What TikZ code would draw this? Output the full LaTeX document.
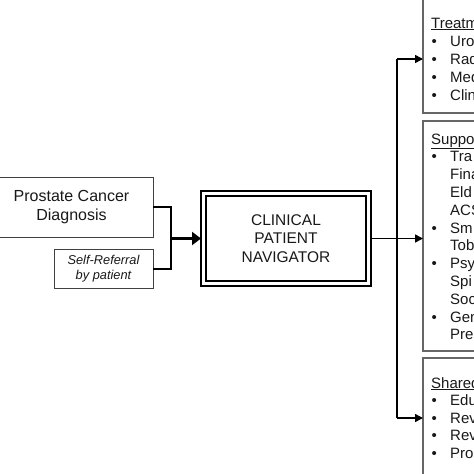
\documentclass[tikz,border=0pt]{standalone}
\usepackage{fontspec}
\setmainfont{Liberation Sans}
\usetikzlibrary{arrows.meta}
\newcommand{\bul}{\makebox[19pt][l]{\hspace*{0.5pt}•}}
\newcommand{\ind}{\hspace*{19pt}}
\begin{document}
\begin{tikzpicture}[x=1pt,y=-1pt,
  lbox/.style={draw=black!75,line width=1pt,inner sep=0pt,outer sep=0pt,align=center,text=black!90},
  rbox/.style={draw=black!60,line width=1.2pt,inner sep=0pt,outer sep=0pt},
  navout/.style={draw=black,line width=2.4pt,inner sep=0pt,outer sep=0pt},
  navin/.style={draw=black,line width=1.8pt,inner sep=0pt,outer sep=0pt,align=center,
    font=\fontsize{15.5}{18.5}\selectfont,text=black!90},
  rtext/.style={anchor=base west,inner sep=0pt,font=\fontsize{15}{18}\selectfont,text=black!90},
  bracket/.style={draw=black,line width=2pt},
  bigarrow/.style={draw=black,line width=3pt,-{Triangle[length=9pt,width=13pt]}},
  arr/.style={draw=black,line width=1.5pt,-{Triangle[length=8pt,width=8pt]}}]
\useasboundingbox (0,0) rectangle (474,474);
\fill[white] (0,0) rectangle (474,474);

% left boxes
\node[lbox,minimum width=163pt,minimum height=60pt,font=\fontsize{16}{19}\selectfont] (diag) at (71.5,207) {Prostate Cancer\\Diagnosis};
\node[lbox,minimum width=99pt,minimum height=39pt,font=\fontsize{12.8}{15}\selectfont\itshape] (self) at (103.5,268.5) {Self-Referral\\by patient};

% navigator
\node[navout,minimum width=170pt,minimum height=95pt] (nav) at (286,238.5) {};
\node[navin,minimum width=160pt,minimum height=85pt] (navi) at (286,238.5) {CLINICAL\\PATIENT\\NAVIGATOR};

% right boxes
\node[rbox,minimum width=80pt,minimum height=143pt] (treat) at (463,41.5) {};
\node[rbox,minimum width=80pt,minimum height=230pt] (supp) at (463,236) {};
\node[rbox,minimum width=80pt,minimum height=130pt] (shared) at (463,423) {};

% connectors left
\coordinate (j) at (171,238.5);
\draw[bracket] (diag.east) -| (j) |- (self.east);
\draw[bigarrow] (j) -- (nav.west);

% connectors right
\coordinate (t1) at (397,59);
\coordinate (t3) at (397,418);
\draw[line width=1.5pt] (t1) -- (t3);
\draw[arr] (t1) -- (t1 -| treat.west);
\draw[arr] (nav.east) -- (nav.east -| supp.west);
\draw[arr] (t3) -- (t3 -| shared.west);

% right texts
\foreach \t [count=\i] in {{\underline{Treatm}},{\bul Uro},{\bul Rad},{\bul Med},{\bul Clin}}
  \node[rtext] (ta\i) at (431,{28+18*(\i-1)}) {\t};
\foreach \t [count=\i] in {{\underline{Suppo}},{\bul Tra},{\ind Fina},{\ind Eld},{\ind ACS},{\bul Sm},{\ind Tob},{\bul Psy},{\ind Spi},{\ind Soc},{\bul Gen},{\ind Pre}}
  \node[rtext] (tb\i) at (431,{144+17.8*(\i-1)}) {\t};
\foreach \t [count=\i] in {{\underline{Shared}},{\bul Edu},{\bul Rev},{\bul Rev},{\bul Pro}}
  \node[rtext] (tc\i) at (431,{388+17.6*(\i-1)}) {\t};
\end{tikzpicture}
\end{document}
